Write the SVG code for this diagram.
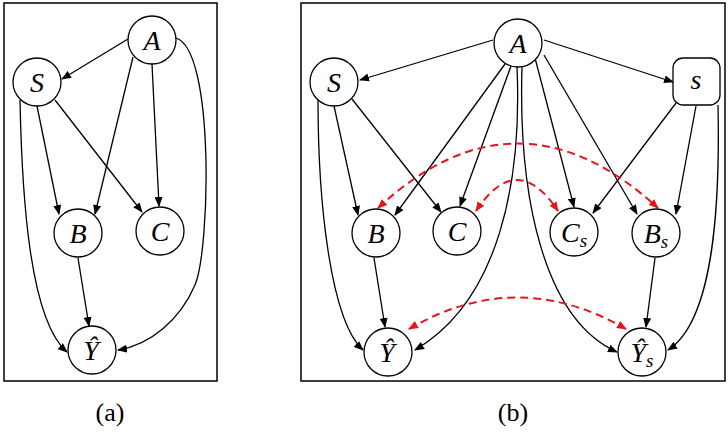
<svg xmlns="http://www.w3.org/2000/svg" width="728" height="434" viewBox="0 0 728 434">
<style>
.n{fill:#fff;stroke:#000;stroke-width:1.3}
.t{font-family:'Liberation Serif','DejaVu Serif',serif;font-style:italic;font-size:28px;text-anchor:middle}
.sub{font-size:19px}
.e{fill:none;stroke:#000;stroke-width:1.3;marker-end:url(#ah)}
.r{fill:none;stroke:#e8141c;stroke-width:2;stroke-dasharray:8,5;marker-start:url(#rs);marker-end:url(#re)}
.lab{font-family:'Liberation Serif','DejaVu Serif',serif;font-size:26px;text-anchor:middle}
</style>
<defs>
<marker id="ah" markerWidth="10" markerHeight="8" refX="9" refY="4" orient="auto" markerUnits="userSpaceOnUse"><path d="M0,0L10,4L0,8z"/></marker>
<marker id="re" markerWidth="10" markerHeight="8" refX="9" refY="4" orient="auto" markerUnits="userSpaceOnUse"><path d="M0,0L10,4L0,8z" fill="#e8141c"/></marker>
<marker id="rs" markerWidth="10" markerHeight="8" refX="1" refY="4" orient="auto" markerUnits="userSpaceOnUse"><path d="M10,0L0,4L10,8z" fill="#e8141c"/></marker>
</defs>
<rect x="4" y="3" width="213" height="378" fill="none" stroke="#000" stroke-width="1.5"/>
<rect x="301" y="3" width="424" height="378" fill="none" stroke="#000" stroke-width="1.5"/>
<g id="connectors">
<line class="e" x1="128" y1="39" x2="62" y2="79"/>
<line class="e" x1="133" y1="57" x2="95" y2="214"/>
<line class="e" x1="152" y1="64" x2="159" y2="206"/>
<path class="e" d="M176,38 C215,50 210,250 195,285 C180,320 150,345 118,350"/>
<path class="e" d="M20,100 C22,200 30,320 67,352"/>
<line class="e" x1="37" y1="106" x2="59" y2="214"/>
<line class="e" x1="55" y1="100" x2="142" y2="212"/>
<line class="e" x1="78" y1="258" x2="89" y2="326"/>
<line class="e" x1="493" y1="40" x2="360" y2="80"/>
<line class="e" x1="544" y1="40" x2="673" y2="82"/>
<line class="e" x1="505" y1="64" x2="395" y2="215"/>
<line class="e" x1="511" y1="66" x2="460" y2="206"/>
<line class="e" x1="535" y1="58" x2="574" y2="207"/>
<line class="e" x1="544" y1="55" x2="637" y2="214"/>
<path class="e" d="M517,67 C522,180 500,300 415,350"/>
<path class="e" d="M522,67 C518,200 545,320 617,352"/>
<line class="e" x1="334" y1="106" x2="358" y2="215"/>
<line class="e" x1="352" y1="99" x2="441" y2="212"/>
<path class="e" d="M318,100 C318,200 330,320 363,350"/>
<line class="e" x1="374" y1="258" x2="385" y2="327"/>
<line class="e" x1="676" y1="103" x2="593" y2="213"/>
<line class="e" x1="696" y1="106" x2="676" y2="214"/>
<path class="e" d="M718,105 C720,200 715,320 668,350"/>
<line class="e" x1="655" y1="258" x2="646" y2="327"/>
<path class="r" d="M378,208 Q517,79 658,208"/>
<path class="r" d="M476,211 Q517,149 558,211"/>
<path class="r" d="M409,329 Q517,266 626,329"/>
</g>
<g id="A1"><circle class="n" cx="152" cy="40" r="24"/><text class="t" font-size="28" x="152" y="50">A</text></g>
<g id="S1"><circle class="n" cx="37" cy="82" r="24"/><text class="t" font-size="28" x="37" y="92">S</text></g>
<g id="B1"><circle class="n" cx="78" cy="233" r="24"/><text class="t" font-size="28" x="78" y="243">B</text></g>
<g id="C1"><circle class="n" cx="160" cy="231" r="24"/><text class="t" font-size="28" x="160" y="241">C</text></g>
<g id="Y1"><circle class="n" cx="92" cy="350" r="24"/><text class="t" font-size="28" x="91" y="360">Ŷ</text></g>
<g id="A2"><circle class="n" cx="518" cy="43" r="24"/><text class="t" font-size="28" x="518" y="53">A</text></g>
<g id="S2"><circle class="n" cx="334" cy="82" r="24"/><text class="t" font-size="28" x="334" y="92">S</text></g>
<g id="s2"><rect class="n" x="673" y="58" width="47" height="47" rx="10"/><text class="t" font-size="28" x="696" y="89">s</text></g>
<g id="B2"><circle class="n" cx="376" cy="233" r="24"/><text class="t" font-size="28" x="376" y="243">B</text></g>
<g id="C2"><circle class="n" cx="457" cy="231" r="24"/><text class="t" font-size="28" x="457" y="241">C</text></g>
<g id="Cs"><circle class="n" cx="574" cy="232" r="24"/><text class="t" font-size="28" x="574" y="242">C<tspan class="sub" font-size="19" dy="5">s</tspan></text></g>
<g id="Bs"><circle class="n" cx="656" cy="233" r="24"/><text class="t" font-size="28" x="656" y="243">B<tspan class="sub" font-size="19" dy="5">s</tspan></text></g>
<g id="Y2"><circle class="n" cx="388" cy="352" r="24"/><text class="t" font-size="28" x="387" y="362">Ŷ</text></g>
<g id="Ys"><circle class="n" cx="642" cy="352" r="24"/><text class="t" font-size="28" x="642" y="362">Ŷ<tspan class="sub" font-size="19" dy="5">s</tspan></text></g>
<text class="lab" font-size="26" x="110" y="421">(a)</text>
<text class="lab" font-size="26" x="513" y="421">(b)</text>
</svg>
